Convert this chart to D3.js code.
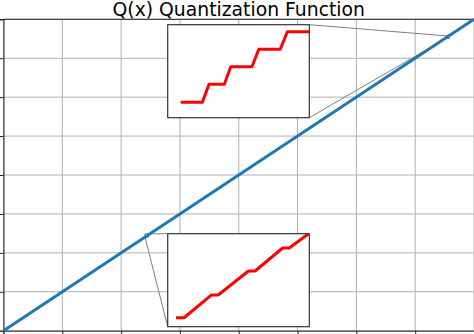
<!DOCTYPE html>
<html>
<head>
<meta charset="utf-8">
<script src="https://cdn.jsdelivr.net/npm/d3@7"></script>
<style>
  html, body { margin: 0; padding: 0; background: #fff; }
  svg { display: block; }
</style>
</head>
<body>
<svg id="chart" width="474" height="334"></svg>
<script>
// ---- data ----
const titleText = "Q(x) Quantization Function";
const xTicks = [0, 1, 2, 3, 4, 5, 6, 7, 8];
const yTicks = [0, 1, 2, 3, 4, 5, 6, 7, 8];
const mainX = [0, 8];
const mainY = [0, 8];

// inset 1 (upper): zoom window and red staircase
const inset1XDomain = [7.520, 7.580];
const inset1YDomain = [7.505, 7.575];
const inset1X = [7.5255, 7.5347, 7.5375, 7.5440, 7.5467, 7.5557, 7.5586, 7.5677, 7.5707, 7.5800];
const inset1Y = [7.5166, 7.5166, 7.5301, 7.5301, 7.5434, 7.5434, 7.5565, 7.5565, 7.5697, 7.5697];

// inset 2 (lower)
const inset2XDomain = [2.405, 2.465];
const inset2YDomain = [2.410, 2.490];
const inset2X = [2.4085, 2.4119, 2.4236, 2.4264, 2.4392, 2.4420, 2.4537, 2.4565, 2.4647];
const inset2Y = [2.4177, 2.4177, 2.4373, 2.4373, 2.4579, 2.4579, 2.4777, 2.4777, 2.4900];

// ---- layout ----
const svg = d3.select("#chart");
const L = 3.5, R = 474, T = 19.3, B = 330.7;
const x = d3.scaleLinear().domain([0, 8]).range([L, R]);
const y = d3.scaleLinear().domain([0, 8]).range([B, T]);

// grid
const grid = svg.append("g");
grid.selectAll("line.vx").data(xTicks).join("line")
  .attr("x1", d => x(d)).attr("x2", d => x(d)).attr("y1", T).attr("y2", B)
  .attr("stroke", "#b0b0b0").attr("stroke-width", 1);
grid.selectAll("line.hy").data(yTicks).join("line")
  .attr("y1", d => y(d)).attr("y2", d => y(d)).attr("x1", L).attr("x2", R)
  .attr("stroke", "#b0b0b0").attr("stroke-width", 1);

// axes (labels are outside the visible area)
svg.append("g").attr("transform", `translate(0,${B})`)
  .call(d3.axisBottom(x).tickValues(xTicks).tickSize(3.5).tickFormat(""))
  .call(g => g.selectAll("line, path").attr("stroke", "#222"));
svg.append("g").attr("transform", `translate(${L},0)`)
  .call(d3.axisLeft(y).tickValues(yTicks).tickSize(3.5).tickFormat(""))
  .call(g => g.selectAll("line, path").attr("stroke", "#222"));
svg.append("line").attr("x1", L).attr("x2", R).attr("y1", T).attr("y2", T)
  .attr("stroke", "#222").attr("stroke-width", 1);

// inset boxes in pixel space
const insets = [
  { box: [167.7, 24.7, 309.3, 117.7], xd: inset1XDomain, yd: inset1YDomain, xs: inset1X, ys: inset1Y,
    corners: [["tr", "tl"], ["br", "bl"]] },
  { box: [167.7, 233.7, 309.3, 326.7], xd: inset2XDomain, yd: inset2YDomain, xs: inset2X, ys: inset2Y,
    corners: [["tl", "tr"], ["bl", "bl"]] }
];

// marker rectangles and connectors (under the main line)
const conn = svg.append("g");
insets.forEach(ins => {
  const rx0 = x(ins.xd[0]), rx1 = x(ins.xd[1]), ry0 = y(ins.yd[1]), ry1 = y(ins.yd[0]);
  conn.append("rect").attr("x", rx0).attr("y", ry0).attr("width", rx1 - rx0).attr("height", ry1 - ry0)
    .attr("fill", "none").attr("stroke", "#808080").attr("stroke-width", 1);
  const [bx0, by0, bx1, by1] = ins.box;
  const boxC = { tl: [bx0, by0], tr: [bx1, by0], bl: [bx0, by1], br: [bx1, by1] };
  const recC = { tl: [rx0, ry0], tr: [rx1, ry0], bl: [rx0, ry1], br: [rx1, ry1] };
  ins.corners.forEach(([bc, rc]) => {
    conn.append("line")
      .attr("x1", boxC[bc][0]).attr("y1", boxC[bc][1])
      .attr("x2", recC[rc][0]).attr("y2", recC[rc][1])
      .attr("stroke", "#808080").attr("stroke-width", 1);
  });
});

// main line
const mainPts = mainX.map((d, i) => [d, mainY[i]]);
svg.append("path").datum(mainPts)
  .attr("d", d3.line().x(d => x(d[0])).y(d => y(d[1])))
  .attr("fill", "none").attr("stroke", "#1f77b4").attr("stroke-width", 3);

// insets
insets.forEach((ins, k) => {
  const [bx0, by0, bx1, by1] = ins.box;
  const ix = d3.scaleLinear().domain(ins.xd).range([bx0, bx1]);
  const iy = d3.scaleLinear().domain(ins.yd).range([by1, by0]);
  const g = svg.append("g");
  g.append("rect").attr("x", bx0).attr("y", by0).attr("width", bx1 - bx0).attr("height", by1 - by0)
    .attr("fill", "#fff");
  const clipId = "clip" + k;
  svg.append("clipPath").attr("id", clipId).append("rect")
    .attr("x", bx0).attr("y", by0).attr("width", bx1 - bx0).attr("height", by1 - by0);
  const pts = ins.xs.map((d, i) => [d, ins.ys[i]]);
  g.append("path").datum(pts)
    .attr("clip-path", `url(#${clipId})`)
    .attr("d", d3.line().x(d => ix(d[0])).y(d => iy(d[1])))
    .attr("fill", "none").attr("stroke", "#ff0000").attr("stroke-width", 3)
    .attr("stroke-linejoin", "round");
  g.append("rect").attr("x", bx0).attr("y", by0).attr("width", bx1 - bx0).attr("height", by1 - by0)
    .attr("fill", "none").attr("stroke", "#333").attr("stroke-width", 1.2);
});

// title
svg.append("text").attr("x", (L + R) / 2).attr("y", 15.5)
  .attr("text-anchor", "middle")
  .attr("font-family", "DejaVu Sans")
  .attr("font-size", 18.8)
  .attr("fill", "#000")
  .text(titleText);
</script>
</body>
</html>
